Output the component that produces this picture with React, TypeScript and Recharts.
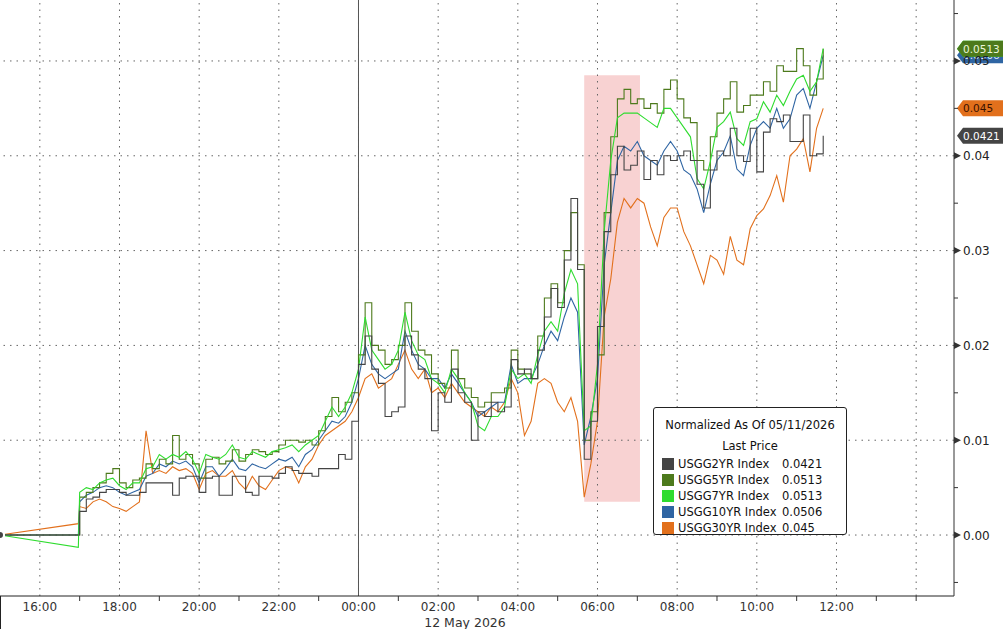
import { Line, LineChart, ReferenceArea, ReferenceLine, XAxis, YAxis } from "recharts";

// sample times (local), first point is the prior close
const times = [
  "15:00", "16:58",
  "17:00", "17:10", "17:20", "17:30", "17:40", "17:50",
  "18:00", "18:10", "18:20", "18:30", "18:40", "18:50",
  "19:00", "19:10", "19:20", "19:30", "19:40", "19:50",
  "20:00", "20:10", "20:20", "20:30", "20:40", "20:50",
  "21:00", "21:10", "21:20", "21:30", "21:40", "21:50",
  "22:00", "22:10", "22:20", "22:30", "22:40", "22:50",
  "23:00", "23:10", "23:20", "23:30", "23:40", "23:50",
  "00:00", "00:10", "00:20", "00:30", "00:40", "00:50",
  "01:00", "01:10", "01:20", "01:30", "01:40", "01:50",
  "02:00", "02:10", "02:20", "02:30", "02:40", "02:50",
  "03:00", "03:10", "03:20", "03:30", "03:40", "03:50",
  "04:00", "04:10", "04:20", "04:30", "04:40", "04:50",
  "05:00", "05:10", "05:20", "05:30", "05:40", "05:50",
  "06:00", "06:10", "06:20", "06:30", "06:40", "06:50",
  "07:00", "07:10", "07:20", "07:30", "07:40", "07:50",
  "08:00", "08:10", "08:20", "08:30", "08:40", "08:50",
  "09:00", "09:10", "09:20", "09:30", "09:40", "09:50",
  "10:00", "10:10", "10:20", "10:30", "10:40", "10:50",
  "11:00", "11:10", "11:20", "11:30", "11:40",
];

const usgg2yr = [
  0, 0,
  0.0025, 0.0038, 0.004, 0.0045, 0.0048, 0.0048,
  0.0045, 0.0042, 0.0042, 0.0045, 0.0055, 0.0055,
  0.0055, 0.0055, 0.0042, 0.006, 0.0062, 0.0062,
  0.0045, 0.006, 0.0062, 0.0042, 0.0042, 0.0062,
  0.0062, 0.0045, 0.0042, 0.0062, 0.0062, 0.006,
  0.0065, 0.0072, 0.0068, 0.0065, 0.0065, 0.0062,
  0.007, 0.007, 0.007, 0.0085, 0.008, 0.012,
  0.018, 0.021, 0.0175, 0.016, 0.0125, 0.013,
  0.0135, 0.021, 0.019, 0.0175, 0.0165, 0.011,
  0.015, 0.014, 0.0175, 0.015, 0.014, 0.01,
  0.013, 0.0125, 0.014, 0.013, 0.0135, 0.0185,
  0.017, 0.0175, 0.0165, 0.0195, 0.023, 0.026,
  0.024, 0.029, 0.0355, 0.028, 0.008, 0.012,
  0.022, 0.032, 0.038, 0.041, 0.0385, 0.039,
  0.0405, 0.0375, 0.0395, 0.038, 0.04, 0.0395,
  0.04, 0.0405, 0.0395, 0.037, 0.0345, 0.0385,
  0.0405, 0.04, 0.0429, 0.04, 0.0394, 0.0429,
  0.0383, 0.0425, 0.0439, 0.0436, 0.0443, 0.0415,
  0.0415, 0.0443, 0.04, 0.0402, 0.0421,
];

const usgg5yr = [
  0, 0,
  0.004, 0.0045, 0.005, 0.0055, 0.0065, 0.007,
  0.0055, 0.005, 0.0058, 0.006, 0.0075, 0.007,
  0.008, 0.0075, 0.0105, 0.008, 0.0085, 0.0075,
  0.006, 0.008, 0.0082, 0.0075, 0.0078, 0.009,
  0.0078, 0.0085, 0.009, 0.0088, 0.0085, 0.0088,
  0.0095, 0.01, 0.01, 0.0098, 0.01, 0.0095,
  0.011, 0.0125, 0.0145, 0.013, 0.014, 0.015,
  0.019, 0.0245, 0.02, 0.0195, 0.018, 0.0185,
  0.02, 0.0245, 0.0215, 0.0195, 0.019, 0.017,
  0.016, 0.0155, 0.0195, 0.0165, 0.0155, 0.0145,
  0.0135, 0.014, 0.015, 0.015, 0.0155, 0.0195,
  0.0175, 0.017, 0.0165, 0.021, 0.025, 0.0265,
  0.0245, 0.03, 0.034, 0.0285, 0.01, 0.013,
  0.019, 0.034, 0.042, 0.046, 0.047, 0.0455,
  0.046, 0.045, 0.0455, 0.0445, 0.047, 0.048,
  0.046, 0.044, 0.0435, 0.0395, 0.0385, 0.042,
  0.0445, 0.046, 0.0478, 0.0446, 0.0453, 0.0464,
  0.0464, 0.0478, 0.0468, 0.0495, 0.0489, 0.0489,
  0.0513, 0.0495, 0.0464, 0.0481, 0.0513,
];

const usgg7yr = [
  0, -0.0013,
  0.0045, 0.005, 0.0048, 0.0055, 0.0058, 0.006,
  0.0052, 0.0048, 0.0055, 0.0055, 0.007, 0.0072,
  0.0085, 0.008, 0.0085, 0.0082, 0.0088, 0.008,
  0.0065, 0.0085, 0.0082, 0.008, 0.0085, 0.0095,
  0.0082, 0.008, 0.0088, 0.0085, 0.0082, 0.0088,
  0.009, 0.0092, 0.0095, 0.0088, 0.0095, 0.01,
  0.0105, 0.012, 0.0135, 0.0125, 0.0135, 0.015,
  0.0175, 0.023, 0.0195, 0.0185, 0.0175, 0.018,
  0.0195, 0.0235, 0.0205, 0.019, 0.0185, 0.0165,
  0.016, 0.015, 0.0175, 0.0165, 0.015, 0.014,
  0.0115, 0.011, 0.0125, 0.0125, 0.0135, 0.0175,
  0.0165, 0.017, 0.016, 0.019, 0.0215, 0.0225,
  0.0215, 0.0255, 0.028, 0.0265, 0.011, 0.0115,
  0.018, 0.032, 0.0395, 0.044, 0.0445, 0.0445,
  0.0445, 0.044, 0.0435, 0.043, 0.045, 0.045,
  0.044, 0.043, 0.042, 0.0376, 0.0365, 0.0394,
  0.043, 0.0436, 0.0446, 0.0418, 0.0411, 0.0436,
  0.0439, 0.0457, 0.0446, 0.0464, 0.0453, 0.0468,
  0.0481, 0.0485, 0.0468, 0.0478, 0.0513,
];

const usgg10yr = [
  0, 0,
  0.0035, 0.0042, 0.0045, 0.005, 0.0052, 0.005,
  0.0045, 0.0042, 0.0045, 0.0048, 0.0062, 0.0065,
  0.0075, 0.0072, 0.0078, 0.0075, 0.0078, 0.0072,
  0.0055, 0.0072, 0.0072, 0.0062, 0.007, 0.008,
  0.007, 0.0068, 0.0075, 0.0072, 0.007, 0.0075,
  0.008, 0.0078, 0.0082, 0.0072, 0.0085, 0.009,
  0.01, 0.011, 0.012, 0.0118, 0.0125, 0.014,
  0.0165, 0.02, 0.018, 0.017, 0.0165, 0.017,
  0.0175, 0.0215, 0.0195, 0.018, 0.0175, 0.0165,
  0.0165, 0.0155, 0.017, 0.016, 0.015, 0.014,
  0.0125, 0.013, 0.0135, 0.014, 0.014, 0.018,
  0.016, 0.0165, 0.0165, 0.018, 0.02, 0.0215,
  0.0205, 0.023, 0.025, 0.0235, 0.0095, 0.0125,
  0.0165, 0.0285, 0.034, 0.0395, 0.041, 0.0405,
  0.0415, 0.04, 0.0395, 0.039, 0.0405, 0.0415,
  0.0405, 0.0385, 0.038, 0.0365, 0.034, 0.037,
  0.0395, 0.0404, 0.0421, 0.0386, 0.0379, 0.0411,
  0.0429, 0.0436, 0.0429, 0.045, 0.0429, 0.0439,
  0.0464, 0.0471, 0.045, 0.0478, 0.0506,
];

const usgg30yr = [
  0, 0.0012,
  0.003, 0.0028, 0.0035, 0.0038, 0.0035, 0.003,
  0.0028, 0.0025, 0.003, 0.0035, 0.011, 0.0065,
  0.0068, 0.0065, 0.0072, 0.0068, 0.007, 0.0065,
  0.0048, 0.0065, 0.0068, 0.0062, 0.0062, 0.0068,
  0.0055, 0.0048, 0.0062, 0.0052, 0.0048, 0.0058,
  0.0068, 0.0072, 0.007, 0.0055, 0.0072, 0.008,
  0.0095, 0.0105, 0.011, 0.0115, 0.012, 0.013,
  0.0145, 0.0165, 0.017, 0.0155, 0.016, 0.0165,
  0.018, 0.0195, 0.0175, 0.0165, 0.0175, 0.015,
  0.0155, 0.0145, 0.016, 0.015, 0.014, 0.0135,
  0.013, 0.0125, 0.0135, 0.013, 0.014, 0.0165,
  0.015, 0.0105, 0.012, 0.016, 0.0165, 0.016,
  0.014, 0.013, 0.0145, 0.012, 0.004, 0.0075,
  0.012, 0.023, 0.027, 0.033, 0.0355, 0.0345,
  0.0355, 0.035, 0.0325, 0.0305, 0.0335, 0.0345,
  0.0345, 0.032, 0.0305, 0.0285, 0.0265, 0.0295,
  0.029, 0.0275, 0.0315, 0.029, 0.0285, 0.0323,
  0.0337, 0.0344, 0.0358, 0.0379, 0.0351, 0.04,
  0.0407, 0.0418, 0.0383, 0.0429, 0.045,
];

const seriesNames = ["USGG2YR Index", "USGG5YR Index", "USGG7YR Index", "USGG10YR Index", "USGG30YR Index"];
const lastPrices = ["0.0421", "0.0513", "0.0513", "0.0506", "0.045"];

const axisHours = [
  "16:00", "17:00", "18:00", "19:00", "20:00", "21:00", "22:00", "23:00", "00:00", "01:00", "02:00", "03:00",
  "04:00", "05:00", "06:00", "07:00", "08:00", "09:00", "10:00", "11:00", "12:00", "13:00", "14:00",
];
const labeledHours = ["16:00", "18:00", "20:00", "22:00", "00:00", "02:00", "04:00", "06:00", "08:00", "10:00", "12:00"];
const gridHours = [...labeledHours, "14:00"];
const yMajor = [0, 0.01, 0.02, 0.03, 0.04, 0.05];
const yTicks = [-0.005, 0, 0.005, 0.01, 0.015, 0.02, 0.025, 0.03, 0.035, 0.04, 0.045, 0.05, 0.055];
const dateLabel = "12 May 2026";
const legendTitle = "Normalized As Of 05/11/2026";
const legendSub = "Last Price";
const shade = { from: "05:40", to: "07:04", low: 0.0035, high: 0.0485 };

const keys = ["s2", "s5", "s7", "s10", "s30"];
const colors = ["#444444", "#4d7a1c", "#2fdc2f", "#2f65a3", "#e2701c"];
const lineTypes = ["stepAfter", "stepAfter", "linear", "linear", "linear"];
const tagText = ["#ffffff", "#eaf6d8", "#0a3a0a", "#dfe9f5", "#3a1200"];
const FONT = "'DejaVu Sans', Verdana, sans-serif";

// hours elapsed since 15:00 the day before
const toH = (s: string) => {
  const [hh, mm] = s.split(":").map(Number);
  let h = hh + mm / 60 - 15;
  if (h < 0) h += 24;
  return h;
};

const data = times.map((t, i) => ({
  h: toH(t),
  s2: usgg2yr[i],
  s5: usgg5yr[i],
  s7: usgg7yr[i],
  s10: usgg10yr[i],
  s30: usgg30yr[i],
}));

const XTick = (props: any) => {
  const { x, y, payload } = props;
  const label = axisHours.find((a) => toH(a) === payload.value);
  if (label && labeledHours.includes(label)) {
    return (
      <text x={x} y={y + 15} textAnchor="middle" fontSize={12} fontFamily={FONT} fill="#333">
        {label}
      </text>
    );
  }
  return <line x1={x} x2={x} y1={y} y2={y + 5} stroke="#333" />;
};

const YTick = (props: any) => {
  const { x, y, payload } = props;
  const v = payload.value;
  const major = yMajor.some((m) => Math.abs(m - v) < 1e-9);
  if (!major) return <line x1={x} x2={x + 4} y1={y} y2={y} stroke="#333" />;
  return (
    <g>
      <polygon points={`${x},${y - 3.5} ${x + 7},${y} ${x},${y + 3.5}`} fill="#333" />
      <text x={x + 9} y={y + 4.5} fontSize={12} fontFamily={FONT} fill="#222">
        {v.toFixed(2)}
      </text>
    </g>
  );
};

const ValueTag = ({ viewBox, text, bg, fg }: any) => {
  if (!viewBox) return null;
  const x = viewBox.x + viewBox.width + 3;
  const y = viewBox.y;
  return (
    <g>
      <polygon
        points={`${x},${y} ${x + 6},${y - 8} ${x + 50},${y - 8} ${x + 50},${y + 8} ${x + 6},${y + 8}`}
        fill={bg}
      />
      <text x={x + 6} y={y + 4} fontSize={10.5} fontFamily={FONT} fill={fg}>
        {text}
      </text>
    </g>
  );
};

// draw order of the right-hand tags: later ones sit on top
const tagOrder = [3, 2, 1, 4, 0];

const App = () => {
  return (
    <div style={{ position: "absolute", left: 0, top: 0, width: 1003, height: 629, background: "#fff" }}>
      <LineChart width={1003} height={629} data={data} margin={{ top: 0, right: 0, bottom: 0, left: 0 }}>
        <XAxis
          dataKey="h"
          type="number"
          domain={[0, 23.95]}
          ticks={axisHours.map(toH)}
          interval={0}
          height={33}
          tickSize={0}
          tickMargin={0}
          tickLine={false}
          axisLine={{ stroke: "#222" }}
          tick={<XTick />}
          label={{ value: dateLabel, position: "insideBottom", offset: 2, dx: -12, fontSize: 12.5, fontFamily: FONT, fill: "#333" }}
        />
        <YAxis
          orientation="right"
          type="number"
          domain={[-0.00643, 0.05643]}
          ticks={yTicks}
          interval={0}
          width={49}
          tickSize={0}
          tickMargin={0}
          tickLine={false}
          axisLine={{ stroke: "#333" }}
          tick={<YTick />}
          allowDataOverflow
        />
        <ReferenceArea
          x1={toH(shade.from)}
          x2={toH(shade.to)}
          y1={shade.low}
          y2={shade.high}
          fill="#f09c9c"
          fillOpacity={0.45}
          stroke="none"
        />
        {yMajor.map((v) => (
          <ReferenceLine key={`gy${v}`} y={v} stroke="#666" strokeDasharray="1.5 5" />
        ))}
        {gridHours.map((t) => (
          <ReferenceLine key={`gx${t}`} x={toH(t)} stroke="#666" strokeDasharray="1.5 5" />
        ))}
        <ReferenceLine x={toH("00:00")} stroke="#555" />
        {[4, 3, 1, 2, 0].map((k) => (
          <Line
            key={keys[k]}
            dataKey={keys[k]}
            type={lineTypes[k] as any}
            stroke={colors[k]}
            strokeWidth={1.1}
            dot={false}
            isAnimationActive={false}
          />
        ))}
        {tagOrder.map((k) => (
          <ReferenceLine
            key={`tag${k}`}
            y={Number(lastPrices[k])}
            stroke="none"
            strokeOpacity={0}
            label={(p: any) => <ValueTag viewBox={p.viewBox} text={lastPrices[k]} bg={colors[k]} fg={tagText[k]} />}
          />
        ))}
      </LineChart>
      <div style={{ position: "absolute", left: 0, top: 596, width: 1, height: 33, background: "#222" }} />
      <div
        style={{
          position: "absolute",
          left: 653,
          top: 407,
          width: 192,
          height: 126,
          border: "1px solid #222",
          borderRadius: 3,
          background: "#fff",
          fontFamily: FONT,
          fontSize: 11.5,
          color: "#111",
        }}
      >
        <div style={{ textAlign: "center", lineHeight: "22px", marginTop: 6 }}>{legendTitle}</div>
        <div style={{ textAlign: "center", lineHeight: "20px" }}>{legendSub}</div>
        {seriesNames.map((name, i) => (
          <div key={name} style={{ display: "flex", alignItems: "center", height: 16 }}>
            <div style={{ width: 12, height: 12, marginLeft: 8, marginRight: 4, background: colors[i] }} />
            <div style={{ width: 104, whiteSpace: "nowrap" }}>{name}</div>
            <div>{lastPrices[i]}</div>
          </div>
        ))}
      </div>
    </div>
  );
};

export default App;
